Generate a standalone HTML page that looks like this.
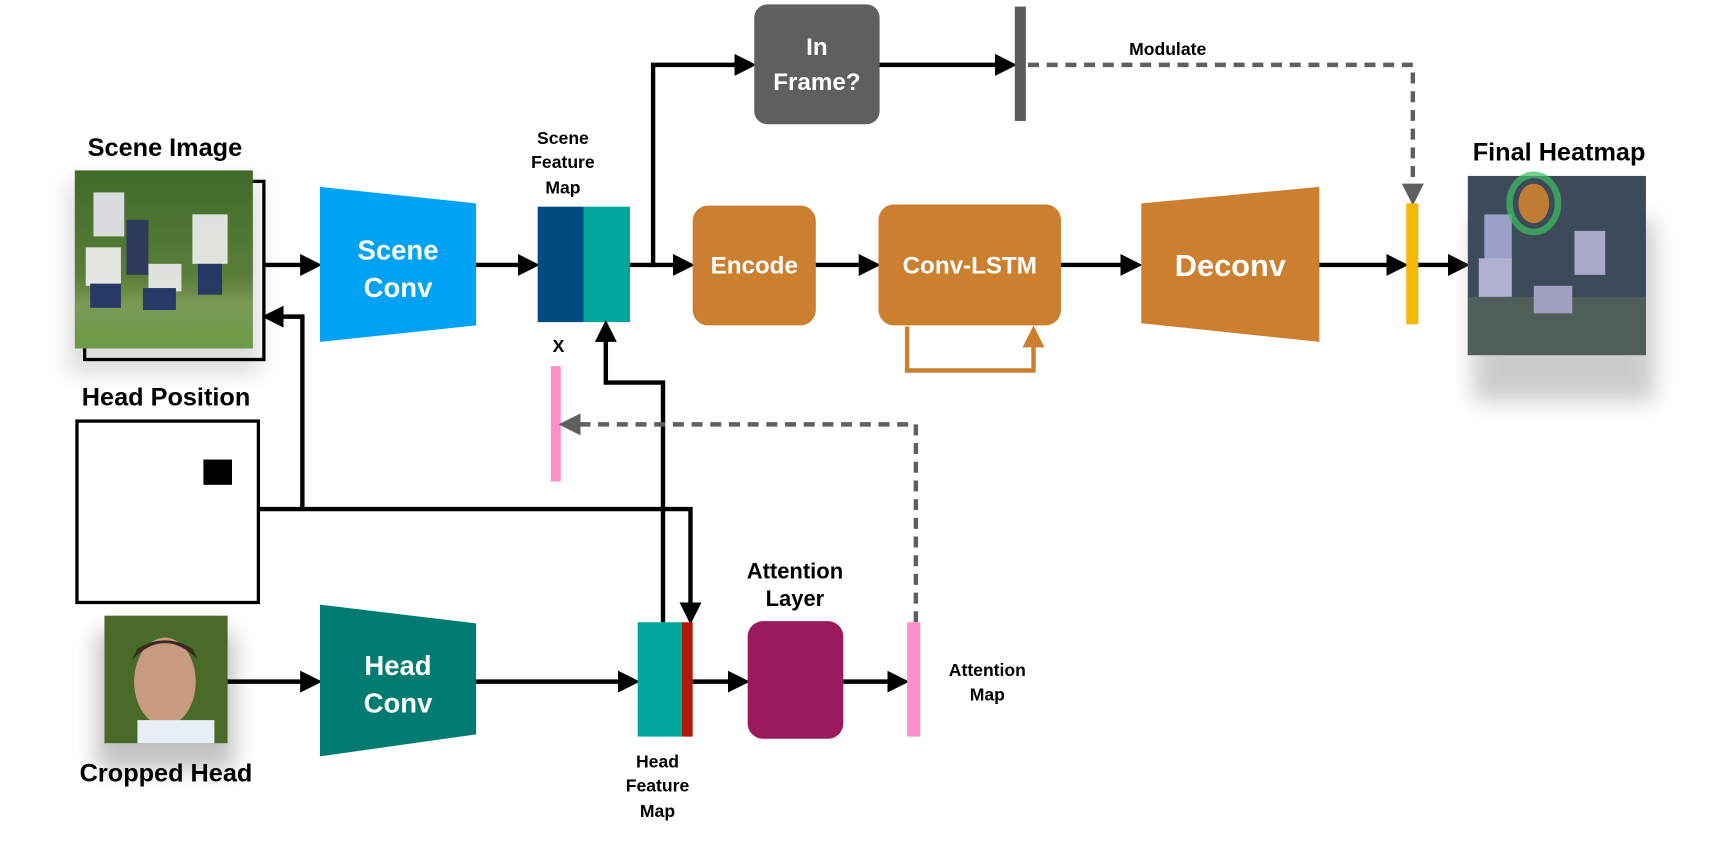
<!DOCTYPE html>
<html><head><meta charset="utf-8"><style>
html,body{margin:0;padding:0;background:#fff;}
svg{display:block;}
text{font-family:"Liberation Sans",Arial,sans-serif;font-weight:bold;}
</style></head><body>
<svg width="1724" height="856" viewBox="0 0 1568 778.6" preserveAspectRatio="none" xmlns="http://www.w3.org/2000/svg">
<defs>
<marker id="ah" markerWidth="5" markerHeight="5" refX="3.5" refY="2.5" orient="auto" markerUnits="strokeWidth"><path d="M0,0 L5,2.5 L0,5 z" fill="#000"/></marker>
<marker id="ag" markerWidth="5" markerHeight="5" refX="3.5" refY="2.5" orient="auto" markerUnits="strokeWidth"><path d="M0,0 L5,2.5 L0,5 z" fill="#5f5f5f"/></marker>
<marker id="ao" markerWidth="5" markerHeight="5" refX="3.5" refY="2.5" orient="auto" markerUnits="strokeWidth"><path d="M0,0 L5,2.5 L0,5 z" fill="#cc7f2e"/></marker>
<linearGradient id="grass" x1="0" y1="0" x2="0" y2="1"><stop offset="0" stop-color="#3f6a2a"/><stop offset="0.6" stop-color="#5c7e3a"/><stop offset="0.75" stop-color="#7a9a55"/><stop offset="1" stop-color="#6d9a45"/></linearGradient>
<filter id="sh" x="-40%" y="-40%" width="180%" height="180%"><feGaussianBlur stdDeviation="10"/></filter>
</defs>

<text x="150" y="142" font-size="23" text-anchor="middle">Scene Image</text>
<rect x="62" y="165" width="175" height="175" fill="#bbb" opacity="0.5" filter="url(#sh)"/>
<rect x="77" y="165" width="163" height="162" fill="none" stroke="#000" stroke-width="3"/>
<rect x="68" y="155" width="162" height="162" fill="url(#grass)"/>
<g opacity="0.9">
<rect x="85" y="175" width="28" height="40" fill="#e8e8f0"/><rect x="78" y="225" width="32" height="35" fill="#f2f2f2"/><rect x="82" y="258" width="28" height="22" fill="#22306a"/>
<rect x="115" y="200" width="20" height="50" fill="#2a3560"/><rect x="175" y="195" width="32" height="45" fill="#f0f0f0"/><rect x="180" y="240" width="22" height="28" fill="#22306a"/>
<rect x="135" y="240" width="30" height="25" fill="#eee"/><rect x="130" y="262" width="30" height="20" fill="#22306a"/>
</g>
<line x1="240" y1="241" x2="287" y2="241" stroke="#000" stroke-width="4" marker-end="url(#ah)"/>

<path d="M291,170 L433,185 L433,296 L291,311 Z" fill="#00a2f5"/>
<text x="362" y="236" font-size="25" fill="#fff" text-anchor="middle">Scene</text>
<text x="362" y="270" font-size="25" fill="#fff" text-anchor="middle">Conv</text>
<line x1="433" y1="241" x2="485" y2="241" stroke="#000" stroke-width="4" marker-end="url(#ah)"/>

<text x="512" y="131" font-size="16" text-anchor="middle">Scene</text>
<text x="512" y="153" font-size="16" text-anchor="middle">Feature</text>
<text x="512" y="176" font-size="16" text-anchor="middle">Map</text>
<rect x="489" y="188" width="42" height="105" fill="#004c7f"/>
<rect x="531" y="188" width="42" height="105" fill="#00a79d"/>
<text x="508" y="320" font-size="16" text-anchor="middle">X</text>
<rect x="501" y="333" width="9" height="105" fill="#ff8fc8"/>

<polyline points="573,241 594,241 594,59 682,59" fill="none" stroke="#000" stroke-width="4" marker-end="url(#ah)"/>
<line x1="594" y1="241" x2="626" y2="241" stroke="#000" stroke-width="4" marker-end="url(#ah)"/>

<rect x="686" y="4" width="114" height="109" rx="12" fill="#5f5f5f"/>
<text x="743" y="50" font-size="22" fill="#fff" text-anchor="middle">In</text>
<text x="743" y="82" font-size="22" fill="#fff" text-anchor="middle">Frame?</text>
<line x1="800" y1="59" x2="919" y2="59" stroke="#000" stroke-width="4" marker-end="url(#ah)"/>
<rect x="923" y="6" width="10" height="104" fill="#5a5a5a"/>
<text x="1062" y="50" font-size="16" text-anchor="middle">Modulate</text>
<polyline points="935,59 1285,59 1285,181" fill="none" stroke="#5f5f5f" stroke-width="4" stroke-dasharray="10,7" marker-end="url(#ag)"/>

<rect x="630" y="187" width="112" height="109" rx="14" fill="#cc7f2e"/>
<text x="686" y="249" font-size="22" fill="#fff" text-anchor="middle">Encode</text>
<line x1="742" y1="241" x2="795" y2="241" stroke="#000" stroke-width="4" marker-end="url(#ah)"/>
<rect x="799" y="186" width="166" height="110" rx="14" fill="#cc7f2e"/>
<text x="882" y="249" font-size="22" fill="#fff" text-anchor="middle">Conv-LSTM</text>
<polyline points="825,297 825,337 940,337 940,302" fill="none" stroke="#cc7f2e" stroke-width="4" marker-end="url(#ao)"/>
<line x1="965" y1="241" x2="1033" y2="241" stroke="#000" stroke-width="4" marker-end="url(#ah)"/>
<path d="M1038,185 L1200,170 L1200,311 L1038,294 Z" fill="#cc7f2e"/>
<text x="1119" y="251" font-size="28" fill="#fff" text-anchor="middle">Deconv</text>
<line x1="1200" y1="241" x2="1275" y2="241" stroke="#000" stroke-width="4" marker-end="url(#ah)"/>
<rect x="1279" y="185" width="11" height="110" fill="#f5b800"/>
<line x1="1290" y1="241" x2="1331" y2="241" stroke="#000" stroke-width="4" marker-end="url(#ah)"/>

<text x="1418" y="146" font-size="23" text-anchor="middle">Final Heatmap</text>
<rect x="1340" y="200" width="165" height="165" fill="#aaa" opacity="0.6" filter="url(#sh)"/>
<rect x="1335" y="160" width="162" height="163" fill="#3d4a5a"/>
<rect x="1335" y="270" width="162" height="53" fill="#4f5e58"/>
<rect x="1350" y="195" width="25" height="45" fill="#9aa0c8"/><rect x="1345" y="235" width="30" height="35" fill="#b0b0d0"/>
<rect x="1432" y="210" width="28" height="40" fill="#a8a8c8"/><rect x="1395" y="260" width="35" height="25" fill="#a0a0c0"/>
<ellipse cx="1395" cy="185" rx="14" ry="18" fill="#e08a2a" opacity="0.8"/>
<ellipse cx="1395" cy="185" rx="22" ry="26" fill="none" stroke="#3cc060" stroke-width="6" opacity="0.7"/>

<text x="151" y="369" font-size="23" text-anchor="middle">Head Position</text>
<rect x="70" y="383" width="165" height="165" fill="#fff" stroke="#000" stroke-width="3"/>
<rect x="185" y="418" width="26" height="23" fill="#000"/>
<polyline points="235,463 628,463 628,562" fill="none" stroke="#000" stroke-width="4" marker-end="url(#ah)"/>
<polyline points="275,463 275,288 244,288" fill="none" stroke="#000" stroke-width="4" marker-end="url(#ah)"/>
<polyline points="603,566 603,348 551,348 551,297" fill="none" stroke="#000" stroke-width="4" marker-end="url(#ah)"/>
<polyline points="833,566 833,386 514,386" fill="none" stroke="#5f5f5f" stroke-width="4" stroke-dasharray="10,7" marker-end="url(#ag)"/>

<rect x="88" y="575" width="125" height="125" fill="#999" opacity="0.6" filter="url(#sh)"/>
<rect x="95" y="560" width="112" height="116" fill="#4a6a2a"/>
<ellipse cx="150" cy="620" rx="28" ry="40" fill="#c89a80"/>
<path d="M120,600 Q150,570 180,600 L175,590 Q150,575 125,590 Z" fill="#3a2a20"/>
<rect x="125" y="655" width="70" height="21" fill="#e8eef5"/>
<text x="151" y="711" font-size="23" text-anchor="middle">Cropped Head</text>
<line x1="207" y1="620" x2="287" y2="620" stroke="#000" stroke-width="4" marker-end="url(#ah)"/>

<path d="M291,550 L433,567 L433,668 L291,688 Z" fill="#007b71"/>
<text x="362" y="614" font-size="25" fill="#fff" text-anchor="middle">Head</text>
<text x="362" y="648" font-size="25" fill="#fff" text-anchor="middle">Conv</text>
<line x1="433" y1="620" x2="576" y2="620" stroke="#000" stroke-width="4" marker-end="url(#ah)"/>
<rect x="580" y="566" width="40" height="104" fill="#00a79d"/>
<rect x="620" y="566" width="10" height="104" fill="#b01a0a"/>
<text x="598" y="698" font-size="16" text-anchor="middle">Head</text>
<text x="598" y="720" font-size="16" text-anchor="middle">Feature</text>
<text x="598" y="743" font-size="16" text-anchor="middle">Map</text>
<line x1="630" y1="620" x2="676" y2="620" stroke="#000" stroke-width="4" marker-end="url(#ah)"/>
<text x="723" y="526" font-size="20" text-anchor="middle">Attention</text>
<text x="723" y="551" font-size="20" text-anchor="middle">Layer</text>
<rect x="680" y="565" width="87" height="107" rx="14" fill="#9b1a5e"/>
<line x1="767" y1="620" x2="821" y2="620" stroke="#000" stroke-width="4" marker-end="url(#ah)"/>
<rect x="825" y="566" width="12" height="104" fill="#ff8fc8"/>
<text x="898" y="615" font-size="16" text-anchor="middle">Attention</text>
<text x="898" y="637" font-size="16" text-anchor="middle">Map</text>
</svg>
</body></html>
